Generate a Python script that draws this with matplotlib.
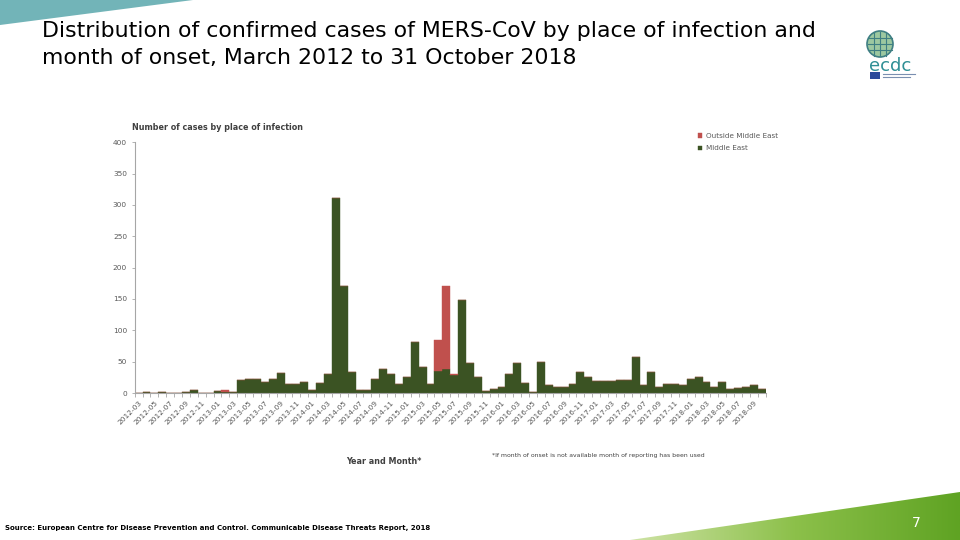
import numpy as np
import matplotlib
matplotlib.use("Agg")
import matplotlib.pyplot as plt
from matplotlib.patches import Polygon, Circle, Rectangle
from matplotlib.colors import LinearSegmentedColormap

# ---------------- data ----------------
start_year, start_month, n_months = 2012, 3, 80
months = [f"{start_year + (start_month - 1 + i) // 12}-{(start_month - 1 + i) % 12 + 1:02d}"
          for i in range(n_months)]

middle_east = [0, 2, 0, 1, 0, 0, 1, 5, 0, 0,
               3, 2, 2, 20, 23, 22, 18, 23, 32, 14,
               14, 18, 5, 16, 31, 311, 171, 33, 5, 5,
               22, 38, 30, 15, 25, 82, 41, 14, 35, 38,
               29, 148, 48, 25, 3, 7, 10, 30, 48, 16,
               1, 49, 13, 10, 10, 14, 33, 25, 19, 19,
               19, 21, 21, 58, 12, 33, 10, 14, 14, 13,
               23, 25, 17, 10, 17, 6, 8, 10, 12, 6]
outside_me = [0] * n_months
outside_me[11] = 2
outside_me[38] = 50
outside_me[39] = 133
outside_me[40] = 1

label_step = 2
y_ticks = list(range(0, 401, 50))

chart_title = "Number of cases by place of infection"
x_title = "Year and Month*"
footnote = "*If month of onset is not available month of reporting has been used"
slide_title = ["Distribution of confirmed cases of MERS-CoV by place of infection and",
               "month of onset, March 2012 to 31 October 2018"]
source = ("Source: European Centre for Disease Prevention and Control. "
          "Communicable Disease Threats Report, 2018")
page_no = "7"

GREEN = "#3b5323"
RED = "#c0504d"
GREY = "#595959"

# ---------------- figure ----------------
W, H = 960, 540
fig = plt.figure(figsize=(9.6, 5.4), dpi=100)
fig.patch.set_facecolor("white")

def fx(px):
    return px / W

def fy(py):
    return 1 - py / H

# decorations (figure level)
deco = fig.add_axes([0, 0, 1, 1], zorder=-5)
deco.set_xlim(0, W)
deco.set_ylim(H, 0)
deco.axis("off")
deco.add_patch(Polygon([[0, 0], [193, 0], [0, 25]], closed=True,
                       facecolor="#72b4b8", edgecolor="none"))
grad = np.linspace(0, 1, 256).reshape(1, -1)
cm = LinearSegmentedColormap.from_list("g", ["#cfe3a6", "#8cc04a", "#5fa323"])
im = deco.imshow(grad, extent=[630, 960, 540, 490], cmap=cm, aspect="auto", zorder=0)
wedge = Polygon([[630, 540], [960, 492], [960, 540]], closed=True,
                facecolor="none", edgecolor="none")
deco.add_patch(wedge)
im.set_clip_path(wedge)
deco.set_xlim(0, W)
deco.set_ylim(H, 0)
deco.text(916, 523, page_no, color="white", fontsize=10, ha="center", va="center",
          family="DejaVu Sans")

# simple ECDC logo
deco.add_patch(Circle((880, 44), 13, facecolor="#9cc8a0", edgecolor="#3f7f83", lw=1.2))
for dx in (-6, 0, 6):
    deco.plot([880 + dx, 880 + dx], [32, 56], color="#3f7f83", lw=0.8)
for dy in (-6, 0, 6):
    deco.plot([868, 892], [44 + dy, 44 + dy], color="#3f7f83", lw=0.8)
deco.text(890, 66, "ecdc", color="#2f8f95", fontsize=13, ha="center", va="center",
          family="DejaVu Sans")
deco.add_patch(Rectangle((870, 72), 10, 7, facecolor="#2b4a9a", edgecolor="none"))
deco.plot([883, 915], [74, 74], color="#7a8fb0", lw=0.8)
deco.plot([883, 910], [77, 77], color="#7a8fb0", lw=0.8)

# slide title, fit to width
t1 = fig.text(fx(42), fy(31), slide_title[0], fontsize=15, family="DejaVu Sans",
              ha="left", va="center", color="black")
t2 = fig.text(fx(42), fy(58), slide_title[1], fontsize=15, family="DejaVu Sans",
              ha="left", va="center", color="black")
fig.canvas.draw()
r = fig.canvas.get_renderer()
w1 = t1.get_window_extent(r).width
fs = 15 * 772 / w1
t1.set_fontsize(fs)
t2.set_fontsize(fs)

fig.text(fx(5), fy(528), source, fontsize=5.0, fontweight="bold", ha="left",
         va="center", color="black", family="DejaVu Sans")

# ---------------- chart ----------------
ax = fig.add_axes([fx(134.7), fy(393), fx(765.7) - fx(134.7), fy(142.3) - fy(393)])
x = np.arange(n_months)
b1 = ax.bar(x, middle_east, width=1.0, color=GREEN, edgecolor=GREEN, linewidth=0.3,
            label="Middle East")
b2 = ax.bar(x, outside_me, width=1.0, bottom=middle_east, color=RED, edgecolor=RED,
            linewidth=0.3, label="Outside Middle East")
ax.set_xlim(-0.5, n_months - 0.5)
ax.set_ylim(0, 400)
ax.set_yticks(y_ticks)
ax.set_yticklabels([str(v) for v in y_ticks], fontsize=5.3, color=GREY)
ax.set_xticks(x[::label_step])
ax.set_xticklabels(months[::label_step], rotation=45, ha="right",
                   rotation_mode="anchor", fontsize=5.3, color=GREY)
ax.set_xticks(np.arange(-0.5, n_months, 1), minor=True)
ax.tick_params(axis="x", which="major", length=0, pad=5)
ax.tick_params(axis="x", which="minor", length=3, color="#a6a6a6", width=0.6)
ax.tick_params(axis="y", length=2.5, color="#a6a6a6", width=0.6, pad=3)
for s in ("top", "right"):
    ax.spines[s].set_visible(False)
for s in ("left", "bottom"):
    ax.spines[s].set_color("#a6a6a6")
    ax.spines[s].set_linewidth(0.8)

fig.text(fx(132), fy(127), chart_title, fontsize=5.8, fontweight="bold",
         color="#404040", ha="left", va="center", family="DejaVu Sans")
fig.text(fx(384), fy(462), x_title, fontsize=5.8, fontweight="bold",
         color="#404040", ha="center", va="center", family="DejaVu Sans")
fig.text(fx(492), fy(455), footnote, fontsize=4.4, color="#404040",
         ha="left", va="center", family="DejaVu Sans")

leg = fig.legend([b2, b1], ["Outside Middle East", "Middle East"],
                 loc="upper left", bbox_to_anchor=(fx(698), fy(133)),
                 frameon=False, fontsize=5.2, handlelength=0.6, handleheight=0.6,
                 handletextpad=0.5, labelspacing=0.9, borderaxespad=0, borderpad=0)
for t in leg.get_texts():
    t.set_color(GREY)

fig.savefig("out.png", dpi=100, facecolor="white")
